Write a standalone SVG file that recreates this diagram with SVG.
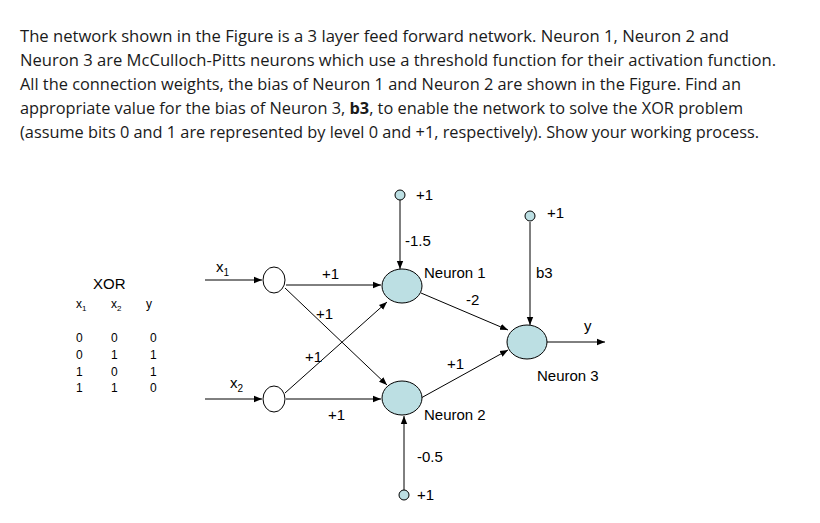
<svg xmlns="http://www.w3.org/2000/svg" width="820" height="523" viewBox="0 0 820 523">
<style>
.p{font-family:"Open Sans","Liberation Sans",sans-serif;font-size:16px;fill:#1a1a1a}
.t{font-family:"Liberation Sans",Arial,sans-serif;font-size:15px;fill:#000}
.s{font-family:"Liberation Sans",Arial,sans-serif;font-size:12px;fill:#000}
.n{fill:#bcdfe3;stroke:#000;stroke-width:1}
.i{fill:#fff;stroke:#000;stroke-width:1}
.c line{stroke:#000;stroke-width:1;marker-end:url(#a)}
</style>
<defs><marker id="a" viewBox="0 0 10 10" refX="10" refY="5" markerWidth="8" markerHeight="8" markerUnits="userSpaceOnUse" orient="auto"><path d="M0,1L10,5L0,9z" fill="#000"/></marker></defs>
<rect width="820" height="523" fill="#fff"/>
<g id="question">
<text class="p" x="20" y="42" textLength="709" lengthAdjust="spacingAndGlyphs">The network shown in the Figure is a 3 layer feed forward network. Neuron 1, Neuron 2 and</text>
<text class="p" x="20" y="66" textLength="756" lengthAdjust="spacingAndGlyphs">Neuron 3 are McCulloch-Pitts neurons which use a threshold function for their activation function.</text>
<text class="p" x="20" y="90" textLength="721" lengthAdjust="spacingAndGlyphs">All the connection weights, the bias of Neuron 1 and Neuron 2 are shown in the Figure. Find an</text>
<text class="p" x="20" y="114" textLength="723" lengthAdjust="spacingAndGlyphs">appropriate value for the bias of Neuron 3, <tspan font-weight="bold">b3</tspan>, to enable the network to solve the XOR problem</text>
<text class="p" x="20" y="138" textLength="739" lengthAdjust="spacingAndGlyphs">(assume bits 0 and 1 are represented by level 0 and +1, respectively). Show your working process.</text>
</g>
<g id="xor-table">
<text class="t" x="93" y="289" font-size="16">XOR</text>
<text class="s" x="76" y="308">x<tspan font-size="8" dy="3">1</tspan></text>
<text class="s" x="111" y="308">x<tspan font-size="8" dy="3">2</tspan></text>
<text class="s" x="146" y="308">y</text>
<text class="s" x="76" y="342">0</text><text class="s" x="111" y="342">0</text><text class="s" x="150" y="342">0</text>
<text class="s" x="76" y="359">0</text><text class="s" x="111" y="359">1</text><text class="s" x="150" y="359">1</text>
<text class="s" x="76" y="376">1</text><text class="s" x="111" y="376">0</text><text class="s" x="150" y="376">1</text>
<text class="s" x="76" y="392">1</text><text class="s" x="111" y="392">1</text><text class="s" x="150" y="392">0</text>
</g>
<g class="c" id="connectors">
<line x1="205" y1="280" x2="262" y2="280"/>
<line x1="205" y1="399" x2="262" y2="399"/>
<line x1="286" y1="285" x2="381" y2="285"/>
<line x1="286" y1="399" x2="381" y2="399"/>
<line x1="285" y1="288" x2="387" y2="385"/>
<line x1="285" y1="393" x2="387" y2="302"/>
<line x1="400" y1="200" x2="400" y2="269"/>
<line x1="404" y1="490" x2="404" y2="416"/>
<line x1="421" y1="293" x2="508" y2="330"/>
<line x1="421" y1="398" x2="508" y2="350"/>
<line x1="530" y1="222" x2="530" y2="325"/>
<line x1="547" y1="342" x2="605" y2="342"/>
</g>
<g id="input1"><ellipse class="i" cx="274" cy="280" rx="11" ry="13"/><text class="t" x="216" y="272">x<tspan font-size="10" dy="4">1</tspan></text></g>
<g id="input2"><ellipse class="i" cx="274" cy="399" rx="11" ry="13"/><text class="t" x="230" y="388">x<tspan font-size="10" dy="4">2</tspan></text></g>
<g id="bias1"><circle class="n" cx="400" cy="195" r="5"/><text class="t" x="416" y="200">+1</text></g>
<g id="bias3"><circle class="n" cx="530" cy="216" r="5"/><text class="t" x="547" y="218">+1</text></g>
<g id="bias2"><circle class="n" cx="404" cy="495" r="5"/><text class="t" x="417" y="500">+1</text></g>
<g id="neuron1"><ellipse class="n" cx="402" cy="286" rx="20" ry="17"/><text class="t" x="424" y="278">Neuron 1</text></g>
<g id="neuron2"><ellipse class="n" cx="402" cy="398" rx="20" ry="17"/><text class="t" x="424" y="420">Neuron 2</text></g>
<g id="neuron3"><ellipse class="n" cx="527" cy="342" rx="20" ry="17"/><text class="t" x="537" y="381">Neuron 3</text></g>
<g id="labels">
<text class="t" x="322" y="279">+1</text>
<text class="t" x="316" y="319">+1</text>
<text class="t" x="305" y="362">+1</text>
<text class="t" x="328" y="420">+1</text>
<text class="t" x="405" y="246">-1.5</text>
<text class="t" x="466" y="305">-2</text>
<text class="t" x="447" y="369">+1</text>
<text class="t" x="536" y="278">b3</text>
<text class="t" x="584" y="331">y</text>
<text class="t" x="417" y="462">-0.5</text>
</g>
</svg>
